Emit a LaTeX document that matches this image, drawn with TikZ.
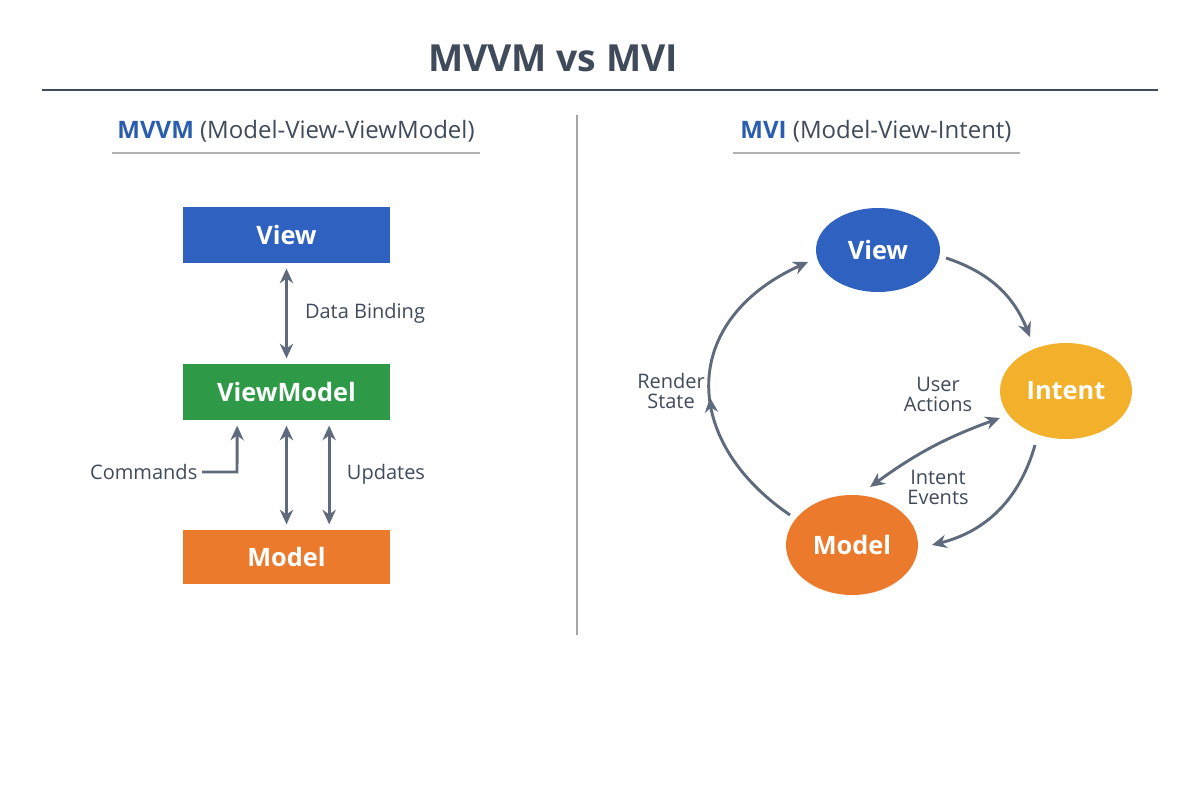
\documentclass[tikz,border=0pt]{standalone}
\usepackage{fontspec}
\setmainfont{Open Sans}
\usetikzlibrary{arrows.meta,decorations.markings,shapes.geometric}
\definecolor{ink}{HTML}{3F4A5A}
\definecolor{arr}{HTML}{5F6B7D}
\definecolor{vblue}{HTML}{2F62C0}
\definecolor{hblue}{HTML}{2A5DB0}
\definecolor{vgreen}{HTML}{2E9A48}
\definecolor{vorange}{HTML}{EC7A2C}
\definecolor{vyellow}{HTML}{F3B02A}
\begin{document}
\begin{tikzpicture}[x=0.75pt,y=-0.75pt,
  box/.style={draw=none,minimum width=155.25pt,minimum height=42pt,text=white,font=\bfseries\fontsize{19}{22}\selectfont},
  ell/.style={ellipse,draw=none,text=white,font=\bfseries\fontsize{19}{22}\selectfont},
  lab/.style={text=ink,font=\fontsize{15}{18}\selectfont,align=center},
  con/.style={draw=arr,line width=2.2pt,-{Stealth[length=11pt,width=10pt]}},
  dcon/.style={draw=arr,line width=2.2pt,{Stealth[length=11pt,width=10pt]}-{Stealth[length=11pt,width=10pt]}}]
\useasboundingbox (0,0) rectangle (1200,800);
\node (title) at (553,58) {\textcolor{ink}{\bfseries\fontsize{28}{32}\selectfont MVVM vs MVI}};
\coordinate (tl) at (42,90); \coordinate (tr) at (1158,90);
\draw[ink,line width=1pt] (tl) -- (tr);
\coordinate (dt) at (577,115); \coordinate (db) at (577,635);
\draw[gray!70,line width=1pt] (dt) -- (db);
\node[lab,font=\fontsize{18}{21}\selectfont] (lh) at (296,131) {\textcolor{hblue}{\bfseries MVVM} (Model-View-ViewModel)};
\coordinate (l1) at (112,153); \coordinate (l2) at (480,153);
\draw[gray!60,line width=0.8pt] (l1) -- (l2);
\node[lab,font=\fontsize{18}{21}\selectfont] (rh) at (876,131) {\textcolor{hblue}{\bfseries MVI} (Model-View-Intent)};
\coordinate (r1) at (733,153); \coordinate (r2) at (1020,153);
\draw[gray!60,line width=0.8pt] (r1) -- (r2);
% MVVM
\node[box,fill=vblue] (view) at (286.5,235) {View};
\node[box,fill=vgreen] (vm) at (286.5,392) {ViewModel};
\node[box,fill=vorange,minimum height=40.5pt] (model) at (286.5,557) {Model};
\draw[dcon] ([yshift=-4pt]view.south) -- ([yshift=4pt]vm.north);
\node[lab] (db1) at (365,313) {Data Binding};
\draw[dcon] ([yshift=-4pt]vm.south) -- ([yshift=4pt]model.north);
\draw[dcon] ([xshift=32pt,yshift=-4pt]vm.south) -- ([xshift=32pt,yshift=4pt]model.north);
\node[lab,anchor=east] (cmd) at (202,472) {Commands};
\coordinate (cb) at (237,472);
\draw[con] (cmd.east) -- (cb) -- ([xshift=-37pt,yshift=-4pt]vm.south);
\node[lab] (upd) at (386,474) {Updates};
% MVI
\node[ell,fill=vblue,minimum width=93pt,minimum height=63pt] (iv) at (878,250) {View};
\node[ell,fill=vyellow,minimum width=99pt,minimum height=72pt] (ii) at (1066,391) {Intent};
\node[ell,fill=vorange,minimum width=99pt,minimum height=75pt] (im) at (852,545) {Model};
\draw[con] (946,258) to[bend left=25] (1030,337);
\draw[con] (1035,445) to[bend left=30] (932,545);
\draw[con,postaction={decorate},decoration={markings,mark=at position 0.45 with {\arrow{Stealth[length=11pt,width=10pt]}}}] (790,515) .. controls (680,440) and (680,320) .. (808,262);
\draw[dcon] (1000,418) to[bend right=8] (870,487);
\node[lab] (ua) at (938,394) {User\\[-3pt]Actions};
\node[lab] (ie) at (938,487) {Intent\\[-3pt]Events};
\node[lab] (rs) at (671,391) {Render\\[-3pt]State};
\end{tikzpicture}
\end{document}
